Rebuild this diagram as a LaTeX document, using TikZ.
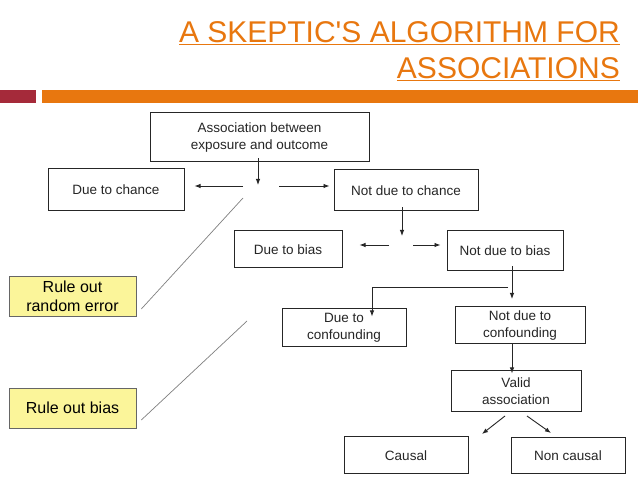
\documentclass[tikz,border=0pt]{standalone}
\usepackage{fontspec}
\setmainfont{Liberation Sans}
\usetikzlibrary{arrows.meta}
\definecolor{orng}{HTML}{E8770F}
\definecolor{dred}{HTML}{A52A3A}
\definecolor{ylw}{HTML}{FBF59A}
\begin{document}
\begin{tikzpicture}[x=1pt,y=-1pt,
  box/.style={draw=black!85,line width=1pt,align=center,inner sep=0pt,font=\fontsize{13.5}{17}\selectfont,text=black!85},
  note/.style={draw=black!60,fill=ylw,line width=0.6pt,align=center,inner sep=0pt,font=\fontsize{16}{19}\selectfont},
  arr/.style={-{Latex[length=6pt,width=4.5pt]},line width=0.9pt,black!85},
  lead/.style={gray,line width=0.7pt}]
\useasboundingbox (0,0) rectangle (638,478);
\fill[white] (0,0) rectangle (638,478);
% header
\fill[dred] (0,90) rectangle (36,103);
\fill[orng] (42,90) rectangle (638,103);
\node[anchor=base east,text=orng,font=\fontsize{30}{32}\selectfont,inner sep=0pt] (t1) at (620,43) {\underline{A SKEPTIC\textquotesingle S ALGORITHM FOR}};
\node[anchor=base east,text=orng,font=\fontsize{30}{32}\selectfont,inner sep=0pt] (t2) at (620,79) {\underline{ASSOCIATIONS}};
% boxes
\node[box,minimum width=219pt,minimum height=49pt] (a) at (259.5,137.5) {Association between\\exposure and outcome};
\node[box,minimum width=136pt,minimum height=42pt] (dc) at (116,190) {Due to chance};
\node[box,minimum width=144pt,minimum height=41pt] (ndc) at (406,190.5) {Not due to chance};
\node[box,minimum width=108pt,minimum height=37pt] (db) at (288,249.5) {Due to bias};
\node[box,minimum width=116pt,minimum height=40pt] (ndb) at (505,251) {Not due to bias};
\node[box,minimum width=124pt,minimum height=38pt] (dcf) at (344,328) {Due to\\confounding};
\node[box,minimum width=130pt,minimum height=37pt] (ndcf) at (520,325.5) {Not due to\\confounding};
\node[box,minimum width=130pt,minimum height=41pt] (va) at (516,391.5) {Valid\\association};
\node[box,minimum width=124pt,minimum height=37pt] (ca) at (406,455.5) {Causal};
\node[box,minimum width=114pt,minimum height=36pt] (nc) at (568,456) {Non causal};
\node[note,minimum width=127pt,minimum height=40pt] (r1) at (72.5,296) {Rule out\\random error};
\node[note,minimum width=127pt,minimum height=40pt] (r2) at (72.5,408) {Rule out bias};
% connectors
\coordinate (s1) at (258,185); \coordinate (l1) at (243,186); \coordinate (m1) at (279,186);
\draw[arr] ([yshift=4pt]a.south -| s1) -- (s1);
\draw[arr] (l1) -- ([xshift=10pt]dc.east |- l1);
\draw[arr] (m1) -- ([xshift=-4pt]ndc.west |- m1);
\coordinate (s2) at (402,236); \coordinate (l2) at (389,245); \coordinate (m2) at (413,245);
\draw[arr] ([yshift=4pt]ndc.south -| s2) -- (s2);
\draw[arr] (l2) -- ([xshift=17pt]db.east |- l2);
\draw[arr] (m2) -- ([xshift=-6pt]ndb.west |- m2);
\coordinate (s3) at (512,299); \coordinate (j3) at (508,287);
\draw[arr] ([yshift=5pt]ndb.south -| s3) -- (s3);
\draw[arr] (j3) -- (372,287) -- ([yshift=-8pt]dcf.north -| 372,0);
\draw[arr] (ndcf.south -| 512,0) -- ([yshift=-3pt]va.north -| 512,0);
\coordinate (v1) at (505,416); \coordinate (v2) at (527,416);
\draw[arr] (v1) -- (482,434);
\draw[arr] (v2) -- (551,433);
\coordinate (g1) at (243,198); \coordinate (g2) at (247,321);
\draw[lead] ([xshift=5pt,yshift=-13pt]r1.east) -- (g1);
\draw[lead] ([xshift=5pt,yshift=-12pt]r2.east) -- (g2);
\end{tikzpicture}
\end{document}
